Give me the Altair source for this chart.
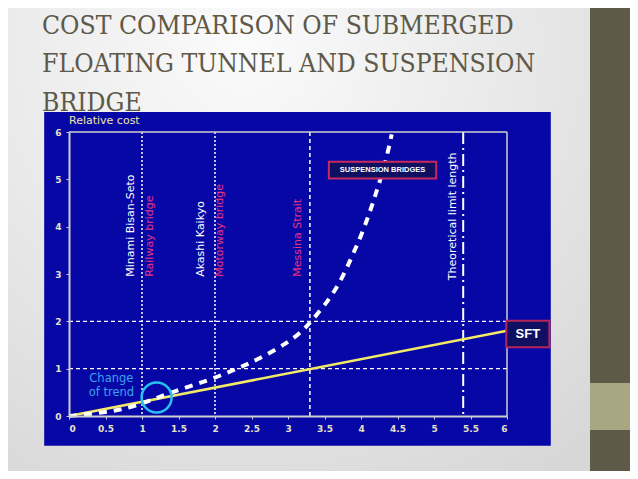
import altair as alt
import pandas as pd

# ---------------- data ----------------
title_lines = ["COST COMPARISON OF SUBMERGED", "FLOATING TUNNEL AND SUSPENSION", "BRIDGE"]
x_ticks = [0, 0.5, 1, 1.5, 2, 2.5, 3, 3.5, 4, 4.5, 5, 5.5, 6]
y_ticks = [0, 1, 2, 3, 4, 5, 6]

sft_x = [0, 6]
sft_y = [0, 1.8]

bridge_x = [0, 0.5, 0.7, 1.0, 1.2, 1.45, 1.93, 2.3, 2.6, 3.0, 3.2, 3.3, 3.5, 3.71, 3.87, 4.0, 4.12, 4.2, 4.29, 4.37, 4.42]
bridge_y = [0, 0.08, 0.13, 0.26, 0.38, 0.53, 0.76, 1.0, 1.2, 1.55, 1.8, 1.97, 2.33, 2.8, 3.35, 3.8, 4.3, 4.68, 5.12, 5.58, 5.95]

site_names = ["Minami Bisan-Seto", "Railway bridge", "Akashi Kaikyo", "Motorway bridge", "Messina Strait", "Theoretical limit length"]
site_label_x = [0.85, 1.11, 1.81, 2.07, 3.14, 5.26]
site_label_y = [2.94, 2.94, 2.94, 2.94, 2.94, 2.87]
site_colors = ["#ffffff", "#e8357f", "#ffffff", "#e8357f", "#e8357f", "#ffffff"]

dotted_x = [1, 2]
messina_x = [3.3]
limit_x = [5.4]
grid_y = [1, 2]

trend_text = ["Change", "of trend"]
trend_x = [0.58, 0.58]
trend_y = [0.78, 0.49]
circle_x = [1.2]
circle_y = [0.39]

# ---------------- helpers ----------------
xs = alt.Scale(domain=[0, 6], nice=False, zero=False)
ys = alt.Scale(domain=[0, 6], nice=False, zero=False)
axis_common = dict(title=None, format="~g", grid=False, labelColor="#e6e2c6",
                   labelFont="DejaVu Sans", labelFontWeight="bold", labelFontSize=9,
                   domainColor="#cfcfcf", domainWidth=2, tickColor="#cfcfcf", tickSize=3,
                   labelPadding=5, zindex=1)
xaxis = alt.Axis(values=x_ticks, **axis_common)
yaxis = alt.Axis(values=y_ticks, **axis_common)


def X(f):
    return alt.X(f, type="quantitative", scale=xs, axis=xaxis)


def Y(f):
    return alt.Y(f, type="quantitative", scale=ys, axis=yaxis)


one = pd.DataFrame({"k": [0]})

# slide background (decoration)
slide_bg = alt.Chart(one).mark_rect(
    color=alt.RadialGradient(gradient="radial", x1=0.38, y1=0.18, x2=0.38, y2=0.18, r1=0, r2=0.85,
                             stops=[alt.GradientStop(color="#fbfbfb", offset=0),
                                    alt.GradientStop(color="#d7d7d7", offset=1)])
).encode(x=alt.value(-61), x2=alt.value(561), y=alt.value(-124), y2=alt.value(339))

band = alt.Chart(one).mark_rect(color="#5f5a48").encode(
    x=alt.value(521), x2=alt.value(561), y=alt.value(-124), y2=alt.value(339))
band_light = alt.Chart(one).mark_rect(color="#a9a684").encode(
    x=alt.value(521), x2=alt.value(561), y=alt.value(251), y2=alt.value(298))

title = alt.Chart(one).mark_text(
    align="left", baseline="alphabetic", font="DejaVu Serif Condensed", fontSize=26.3,
    lineHeight=38.5, color="#5e5949"
).encode(x=alt.value(-27), y=alt.value(-98.5), text=alt.value(title_lines))

# blue chart panel
panel = alt.Chart(pd.DataFrame({"x0": [-0.34], "x1": [6.6], "y0": [-0.63], "y1": [6.42]})).mark_rect(
    color="#0707a6").encode(x=X("x0"), x2="x1", y=Y("y0"), y2="y1")

rel_cost = alt.Chart(pd.DataFrame({"x": [0.0], "y": [6.24], "t": ["Relative cost"]})).mark_text(
    align="left", baseline="middle", font="DejaVu Sans", fontSize=11, color="#efe6a8"
).encode(x=X("x"), y=Y("y"), text="t:N")

dotted = alt.Chart(pd.DataFrame({"x": dotted_x})).mark_rule(
    color="#ffffff", strokeWidth=1.5, strokeDash=[2, 2]).encode(x=X("x"), y=alt.value(0), y2=alt.value(284))
messina = alt.Chart(pd.DataFrame({"x": messina_x})).mark_rule(
    color="#ffffff", strokeWidth=1.5, strokeDash=[4, 3]).encode(x=X("x"), y=alt.value(0), y2=alt.value(284))
limit = alt.Chart(pd.DataFrame({"x": limit_x})).mark_rule(
    color="#ffffff", strokeWidth=2, strokeDash=[12, 4, 2, 4]).encode(x=X("x"), y=alt.value(0), y2=alt.value(284))
hgrid = alt.Chart(pd.DataFrame({"y": grid_y})).mark_rule(
    color="#ffffff", strokeWidth=1.3, strokeDash=[4, 3]).encode(y=Y("y"), x=alt.value(0), x2=alt.value(438))
top_border = alt.Chart(one).mark_rule(color="#cfcfcf", strokeWidth=1.5).encode(
    y=alt.value(0), x=alt.value(0), x2=alt.value(438))
right_border = alt.Chart(one).mark_rule(color="#cfcfcf", strokeWidth=1.5).encode(
    x=alt.value(438), y=alt.value(0), y2=alt.value(284))

sites = alt.Chart(pd.DataFrame({"t": site_names, "x": site_label_x, "y": site_label_y, "c": site_colors})).mark_text(
    angle=270, align="left", baseline="middle", font="DejaVu Sans", fontSize=11
).encode(x=X("x"), y=Y("y"), text="t:N", color=alt.Color("c:N", scale=None))

sft = alt.Chart(pd.DataFrame({"x": sft_x, "y": sft_y})).mark_line(
    color="#f2ea66", strokeWidth=2.5).encode(x=X("x"), y=Y("y"))

bridge = alt.Chart(pd.DataFrame({"x": bridge_x, "y": bridge_y})).mark_line(
    color="#ffffff", strokeWidth=4, strokeDash=[8, 7], interpolate="basis").encode(x=X("x"), y=Y("y"))

sb_box = alt.Chart(pd.DataFrame({"x0": [3.56], "x1": [5.03], "y0": [5.02], "y1": [5.37]})).mark_rect(
    fill="#101062", stroke="#c8285c", strokeWidth=2).encode(x=X("x0"), x2="x1", y=Y("y0"), y2="y1")
sb_text = alt.Chart(pd.DataFrame({"x": [4.295], "y": [5.195], "t": ["SUSPENSION BRIDGES"]})).mark_text(
    font="Liberation Sans", fontWeight="bold", fontSize=7.5, color="#ffffff", baseline="middle"
).encode(x=X("x"), y=Y("y"), text="t:N")

sft_box = alt.Chart(pd.DataFrame({"x0": [5.99], "x1": [6.58], "y0": [1.45], "y1": [2.01]})).mark_rect(
    fill="#101062", stroke="#b8245a", strokeWidth=2).encode(x=X("x0"), x2="x1", y=Y("y0"), y2="y1")
sft_text = alt.Chart(pd.DataFrame({"x": [6.285], "y": [1.73], "t": ["SFT"]})).mark_text(
    font="Liberation Sans", fontWeight="bold", fontSize=13, color="#ffffff", baseline="middle"
).encode(x=X("x"), y=Y("y"), text="t:N")

trend = alt.Chart(pd.DataFrame({"x": trend_x, "y": trend_y, "t": trend_text})).mark_text(
    font="DejaVu Sans", fontSize=11.5, color="#3aa2f0", baseline="middle"
).encode(x=X("x"), y=Y("y"), text="t:N")

circle = alt.Chart(pd.DataFrame({"x": circle_x, "y": circle_y})).mark_point(
    shape="circle", filled=False, size=900, strokeWidth=2.5, color="#28c0f2", opacity=1
).encode(x=X("x"), y=Y("y"))

chart = alt.layer(
    slide_bg, band, band_light, title, panel, rel_cost, dotted, messina, limit, hgrid,
    top_border, right_border, sites, sft, bridge, sb_box, sb_text, sft_box, sft_text, trend, circle
).properties(
    width=438, height=284, autosize="none",
    padding={"left": 61, "top": 124, "right": 123, "bottom": 55}
).configure_view(stroke=None).configure(background="#e2e2e2")

chart.save("out.html", embed_options={"renderer": "svg", "actions": False})
